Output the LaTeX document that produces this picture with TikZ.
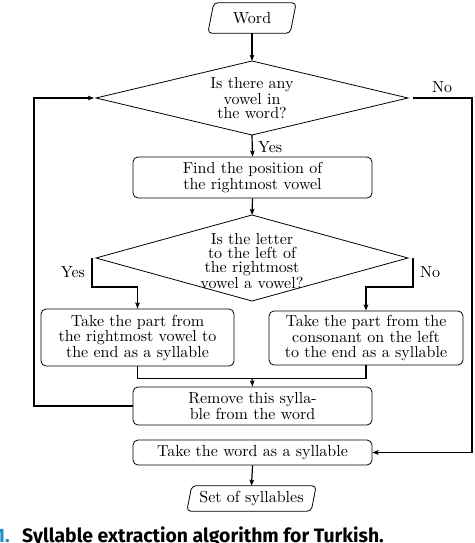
\documentclass[tikz,border=0pt]{standalone}
\usepackage{fontspec}
\setmainfont{lmroman10-regular.otf}
\newfontfamily\capfont{Fira Sans}
\usetikzlibrary{arrows.meta}
\definecolor{capblue}{RGB}{30,140,200}
\begin{document}
\begin{tikzpicture}[x=1pt,y=-1pt,
  every node/.style={font=\fontsize{16}{15.5}\selectfont, inner sep=0pt},
  proc/.style={draw, rounded corners=5pt, line width=0.8pt, align=center},
  qtext/.style={align=center, font=\fontsize{16}{14}\selectfont},
  shapeline/.style={line width=0.8pt},
  line/.style={line width=1.2pt},
  arr/.style={line, -{Stealth[length=6pt,width=4.5pt,inset=1pt]}},
  capstyle/.style={font=\capfont\bfseries\fontsize{19.4}{22}\selectfont}]
\useasboundingbox (0,0) rectangle (474,543);

% io nodes
\node[minimum width=88pt, minimum height=30pt] (word) at (252,18) {Word};
\draw[shapeline, rounded corners=4pt] ([xshift=6pt]word.north west) -- (word.north east)
  -- ([xshift=-6pt]word.south east) -- (word.south west) -- cycle;

\node[minimum width=129pt, minimum height=25pt] (set) at (251.5,498.5) {Set of syllables};
\draw[shapeline, rounded corners=4pt] ([xshift=5pt]set.north west) -- (set.north east)
  -- ([xshift=-5pt]set.south east) -- (set.south west) -- cycle;

% decision 1
\node[qtext] (q1) at (252,98) {Is there any\\vowel in\\the word?};
\coordinate (q1n) at (252,61);
\coordinate (q1s) at (252,135);
\coordinate (q1w) at (96,98);
\coordinate (q1e) at (408,98);
\draw[shapeline] (q1n) -- (q1e) -- (q1s) -- (q1w) -- cycle;

% decision 2
\node[qtext] (q2) at (252,261) {Is the letter\\to the left of\\the rightmost\\vowel a vowel?};
\coordinate (q2n) at (252,215);
\coordinate (q2s) at (252,301);
\coordinate (q2w) at (96,258);
\coordinate (q2e) at (408,258);
\draw[shapeline] (q2n) -- (q2e) -- (q2s) -- (q2w) -- cycle;

% process boxes
\node[proc, minimum width=239pt, minimum height=41pt] (find) at (252.5,177.5) {Find the position of\\the rightmost vowel};
\node[proc, minimum width=193pt, minimum height=57pt] (left) at (137.5,337.5) {Take the part from\\the rightmost vowel to\\the end as a syllable};
\node[proc, minimum width=194pt, minimum height=54pt] (right) at (366,338) {Take the part from the\\consonant on the left\\to the end as a syllable};
\node[proc, minimum width=239pt, minimum height=38pt] (remove) at (252.5,406) {Remove this sylla-\\ble from the word};
\node[proc, minimum width=239pt, minimum height=25pt] (take) at (252.5,452.5) {Take the word as a syllable};

% connectors
\draw[arr] (word.south) -- (q1n);
\draw[arr] (q1s) -- (find.north);
\node[anchor=west] (yes1) at (258,147) {Yes};

\coordinate (noA) at (413,98);
\coordinate (rx) at (472,98);
\draw[arr] (noA) -- (rx) |- (take.east);
\node (no1) at (442,87) {No};

\draw[arr] (find.south) -- (q2n);

\coordinate (q2wl) at (92,258);
\coordinate (q2er) at (413,258);
\draw[arr] (q2wl) -- ++(0,29) -| (left.north);
\draw[arr] (q2er) -- ++(0,29) -| (right.north);
\node (yes2) at (73,272) {Yes};
\node (no2) at (430,272) {No};

\coordinate (m) at (252,378);
\draw[line] (left.south) -- ++(0,12) -| (right.south);
\draw[arr] (m) -- (remove.north);

\coordinate (lx) at (34,98);
\coordinate (q1wa) at (94,98);
\draw[arr] (remove.west) -| (lx) -- (q1wa);

\draw[arr] (take.south) -- (set.north);

% caption (cut off by the page edge)
\node[anchor=base west, capstyle] (cap) at (22,542) {Syllable extraction algorithm for Turkish.};
\node[anchor=base east, text=capblue, capstyle] (capnum) at (10,542) {1.};
\end{tikzpicture}
\end{document}
